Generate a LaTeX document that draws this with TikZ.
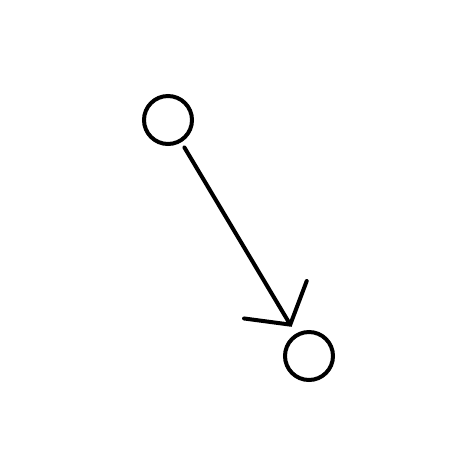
\documentclass[tikz,border=0pt]{standalone}
\usetikzlibrary{arrows.meta}
\tikzset{
    spot/.style = {circle, draw=black, line width=0.08cm,
            minimum size=0.96cm, inner sep=0pt},
    link/.style = {-{Straight Barb[length=5.8mm, width=14.6mm, line cap=round]},
            line width=0.08cm, line cap=round,
            shorten <=1.2mm, shorten >=1.6mm},
}
\begin{document}
\begin{tikzpicture}[x=0.02cm, y=-0.02cm]
    \useasboundingbox (0,0) rectangle (474,474);
    % Nodes
    \node[spot] (from) at (168,120) {};
    \node[spot] (to)   at (309,356) {};
    % Arrows
    \draw[link] (from) -- (to);
\end{tikzpicture}
\end{document}
